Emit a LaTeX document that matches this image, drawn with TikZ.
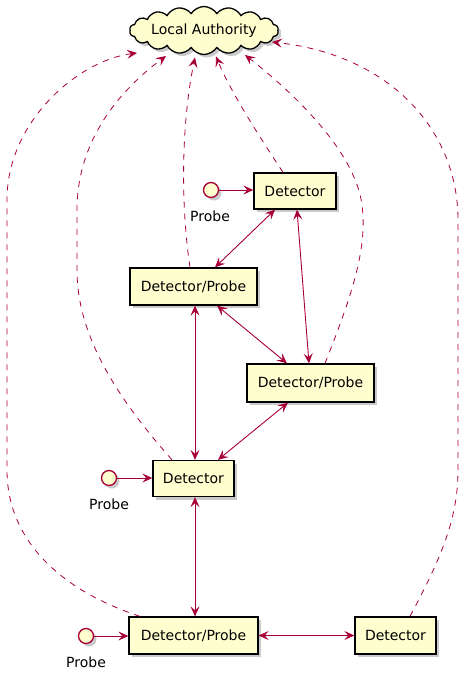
\documentclass[tikz,border=0pt]{standalone}
\usepackage{fontspec}
\setmainfont{DejaVu Sans}
\usetikzlibrary{arrows.meta,shapes.symbols,shadows,calc}
\definecolor{puml}{HTML}{A80036}
\definecolor{pfill}{HTML}{FEFECE}
\tikzset{
  shad/.style={drop shadow={shadow xshift=3pt,shadow yshift=-3pt,fill=black!60,opacity=0.35}},
  box/.style={draw=black,line width=1.3pt,fill=pfill,shad,rectangle,inner sep=0pt,minimum height=37pt,font=\fontsize{14}{16}\selectfont},
  iface/.style={draw=puml,line width=1.3pt,fill=pfill,shad,circle,inner sep=0pt,minimum size=15pt},
  lbl/.style={font=\fontsize{14}{16}\selectfont,inner sep=0pt},
  conn/.style={draw=puml,line width=0.9pt},
  both/.style={conn,{Stealth[length=10pt,width=9pt,inset=4pt]}-{Stealth[length=10pt,width=9pt,inset=4pt]}},
  one/.style={conn,-{Stealth[length=10pt,width=9pt,inset=4pt]}},
  dsh/.style={conn,line width=0.8pt,dash pattern=on 6pt off 6pt,-{Stealth[length=10pt,width=9pt,inset=4pt]}},
}
\begin{document}
\begin{tikzpicture}[x=1pt,y=-1pt]
\useasboundingbox (0,0) rectangle (466,673);
% cloud
\node[cloud,cloud puffs=18,cloud puff arc=115,cloud ignores aspect,draw=black,line width=1.3pt,fill=pfill,shad,minimum width=130pt,minimum height=48pt,inner sep=0pt,font=\fontsize{14}{16}\selectfont] (la) at (204,30.5) {Local Authority};
% boxes
\node[box,minimum width=82pt,minimum height=36pt] (d1) at (295,191) {Detector};
\node[box,minimum width=127pt] (dp1) at (193.5,286.5) {Detector/Probe};
\node[box,minimum width=127pt,minimum height=38pt] (dp2) at (310.5,383) {Detector/Probe};
\node[box,minimum width=81pt,minimum height=36pt] (d2) at (193.5,478.5) {Detector};
\node[box,minimum width=129pt] (dp3) at (193.5,635.5) {Detector/Probe};
\node[box,minimum width=81pt] (d3) at (395.5,635.5) {Detector};
% probes
\node[iface] (p1) at (211,190) {};
\node[lbl] (p1l) at (210,216) {Probe};
\node[iface] (p2) at (109,478) {};
\node[lbl] (p2l) at (109,504) {Probe};
\node[iface] (p3) at (86,636) {};
\node[lbl] (p3l) at (86,662) {Probe};
% solid connectors
\draw[one] (p1.east) -- (p1.east -| d1.west);
\draw[one] (p2.east) -- (p2.east -| d2.west);
\draw[one] (p3.east) -- (p3.east -| dp3.west);
\draw[both] ([xshift=-20pt]d1.south) -- ([xshift=21.5pt]dp1.north);
\draw[both] ([xshift=2pt]d1.south) -- ([xshift=-1.5pt]dp2.north);
\draw[both] ([xshift=23.5pt]dp1.south) -- ([xshift=-23.5pt]dp2.north);
\draw[both] ([xshift=1.5pt]dp1.south) -- ([xshift=1.5pt]d2.north);
\draw[both] ([xshift=-22.5pt]dp2.south) -- ([xshift=24.5pt]d2.north);
\draw[both] ([xshift=1.5pt]d2.south) -- ([xshift=1.5pt]dp3.north);
\draw[both] (dp3.east) -- (dp3.east -| d3.west);
% dashed connectors to Local Authority
\draw[dsh] ([xshift=-12pt]d1.north) .. controls (255,130) and (230,90) .. ($(la)+(12,26)$);
\draw[dsh] ([xshift=-3.5pt]dp1.north) .. controls (180,200) and (182,120) .. ($(la)+(-9,27)$);
\draw[dsh] ([xshift=14.5pt]dp2.north) .. controls (350,300) and (368,250) .. (362,205) .. controls (355,150) and (290,90) .. ($(la)+(41,24.5)$);
\draw[dsh] ([xshift=-21.5pt]d2.north) .. controls (110,390) and (77,330) .. (77,270) -- (77,210) .. controls (77,140) and (120,90) .. ($(la)+(-38,25.5)$);
\draw[dsh] ([xshift=-53.5pt]dp3.north) .. controls (60,590) and (7,540) .. (7,470) -- (7,200) .. controls (7,120) and (80,60) .. ($(la)+(-67,22.5)$);
\draw[dsh] ([xshift=14.5pt]d3.north) .. controls (440,560) and (458,520) .. (458,470) -- (458,220) .. controls (458,130) and (390,55) .. ($(la)+(68,11.5)$);
\end{tikzpicture}
\end{document}
